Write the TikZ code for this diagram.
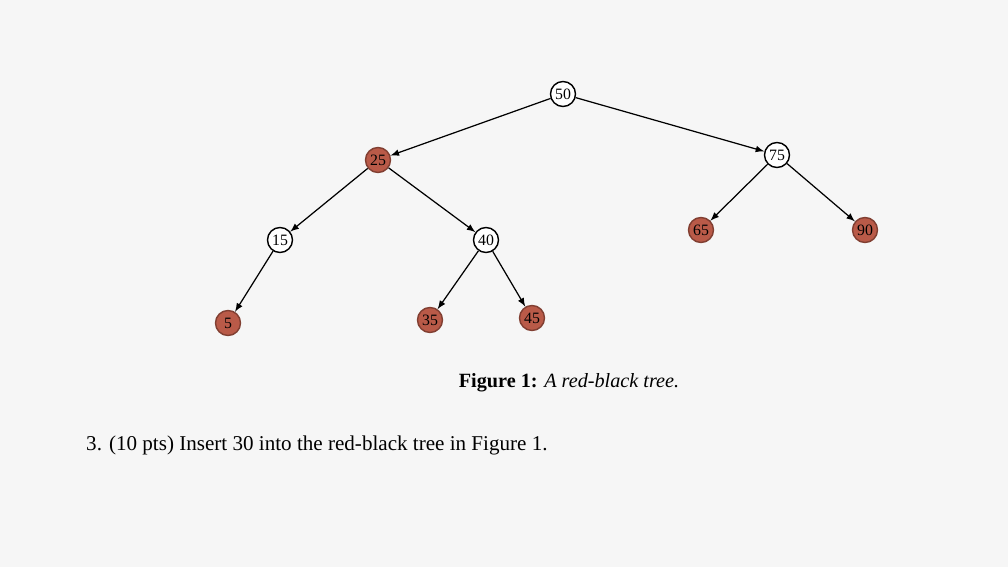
\documentclass[tikz,border=0pt]{standalone}
\usepackage{fontspec}
\setmainfont{Liberation Serif}
\definecolor{rbred}{RGB}{185,90,72}
\begin{document}
\begin{tikzpicture}[x=0.02cm,y=-0.02cm,
  bn/.style={circle,draw,line width=0.8pt,fill=white,minimum size=0.5cm,inner sep=0pt,font=\fontsize{9}{10}\selectfont},
  rn/.style={bn,fill=rbred,draw=rbred!70!black},
  ed/.style={-latex,line width=0.7pt}]
\fill[gray!7] (0,0) rectangle (1008,567);
\useasboundingbox (0,0) rectangle (1008,567);
\node[bn] (n50) at (563,94) {50};
\node[rn] (n25) at (378,160) {25};
\node[bn] (n75) at (777,155) {75};
\node[bn] (n15) at (280,240) {15};
\node[bn] (n40) at (486,240) {40};
\node[rn] (n65) at (701,230) {65};
\node[rn] (n90) at (865,230) {90};
\node[rn] (n5) at (228,323) {5};
\node[rn] (n35) at (430,320) {35};
\node[rn] (n45) at (532,318) {45};
\foreach \a/\b in {n50/n25,n50/n75,n25/n15,n25/n40,n75/n65,n75/n90,n15/n5,n40/n35,n40/n45}
  \draw[ed] (\a) -- (\b);
\node[font=\fontsize{11.5}{14}\selectfont] (cap) at (569,383) {\textbf{Figure 1:} \textit{A red-black tree.}};
\node[font=\fontsize{12}{14}\selectfont,anchor=west] (q) at (80,445) {3. (10 pts) Insert 30 into the red-black tree in Figure 1.};
\end{tikzpicture}
\end{document}
